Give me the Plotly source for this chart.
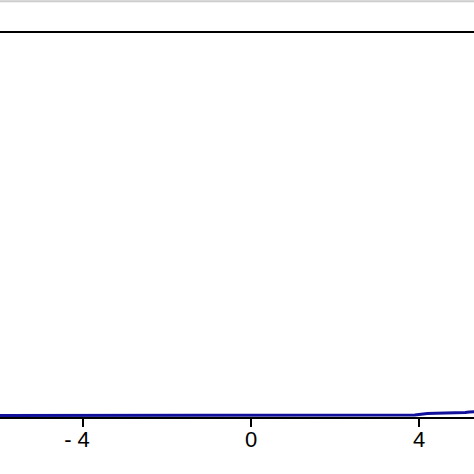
import plotly.graph_objects as go

# curve (x in axis units, y as fraction of full height)
x_vals = [-6.0, -4.0, -2.0, 0.0, 2.0, 3.6, 3.9, 4.05, 4.2, 4.4, 4.6, 4.8, 5.0, 5.1, 5.2, 5.35]
y_vals = [0.004, 0.004, 0.004, 0.004, 0.004, 0.004, 0.005, 0.007, 0.009, 0.0095, 0.010, 0.010, 0.0105, 0.012, 0.013, 0.0135]

tick_vals = [-4, 0, 4]
tick_text = ["-\u00a04\u00a0\u00a0", "0", "4"]

fig = go.Figure()
fig.add_trace(go.Scatter(x=x_vals, y=y_vals, mode='lines',
                         line=dict(color='#10109a', width=3), showlegend=False))

# thin grey rule at the very top of the image
fig.add_shape(type='line', xref='paper', yref='paper', x0=0, x1=1, y0=1.083, y1=1.083,
              line=dict(color='#cccccc', width=2))

fig.update_layout(
    width=474, height=474,
    margin=dict(l=0, r=0, t=33, b=57),
    paper_bgcolor='white', plot_bgcolor='white',
    font=dict(family='Arial', size=22, color='black'),
    xaxis=dict(range=[-5.98, 5.31], tickvals=tick_vals, ticktext=tick_text,
               showline=True, linecolor='black', linewidth=2, mirror=True,
               ticks='outside', ticklen=8, tickwidth=2, tickcolor='black',
               ticklabelstandoff=-6,
               showgrid=False, zeroline=False),
    yaxis=dict(range=[0, 1], visible=False, showgrid=False, zeroline=False),
)

fig.write_html("out.html", config={'displayModeBar': False},
               post_script="document.body.style.margin='0';")
